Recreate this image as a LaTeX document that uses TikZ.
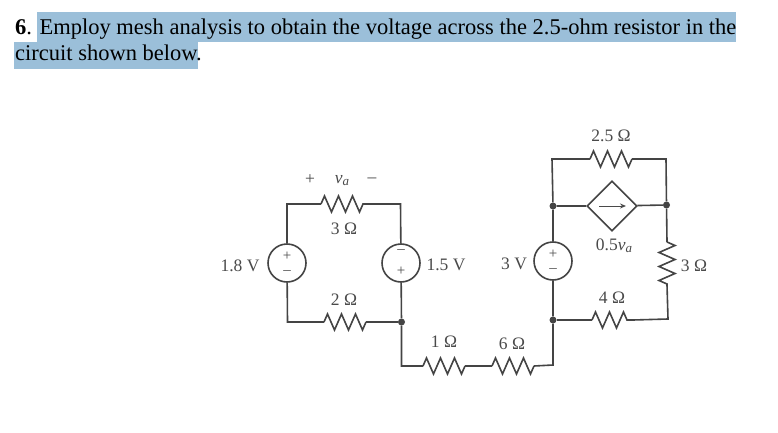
\documentclass[tikz,border=0pt]{standalone}
\usepackage{fontspec}
\setmainfont{Liberation Serif}
\usetikzlibrary{decorations.pathmorphing,shapes.geometric,arrows.meta}
\definecolor{hl}{HTML}{9BBFD9}
\definecolor{wire}{HTML}{444444}
\definecolor{lab}{HTML}{4A4A4A}
\tikzset{
  x=1pt,y=-1pt,
  wirepath/.style={draw=wire,line width=1.6pt,line join=miter},
  res/.style={wirepath,decorate,decoration={zigzag,segment length=14pt,amplitude=8pt,pre length=0pt,post length=0pt}},
  source/.style={circle,draw=wire,line width=1.6pt,minimum size=38pt,inner sep=0pt,fill=white},
  sign/.style={text=lab,inner sep=0pt,font=\fontsize{15}{15}\selectfont},
  dot/.style={circle,fill=wire,minimum size=7pt,inner sep=0pt},
  lbl/.style={text=lab,inner sep=0pt,font=\fontsize{17.5}{18}\selectfont},
  band/.style={fill=hl,draw=none},
  title/.style={anchor=base west,inner sep=0pt,text=black,font=\fontsize{22.5}{24}\selectfont},
  dep/.style={diamond,aspect=1,draw=wire,line width=1.6pt,minimum size=50pt,inner sep=0pt,fill=white}
}
\begin{document}
\begin{tikzpicture}
\useasboundingbox (0,0) rectangle (778,433);
\fill[white] (0,0) rectangle (778,433);
\fill[band] (37,12) rectangle (736,42);
\fill[band] (14,42) rectangle (198,69);
\node[title] (t1) at (15,35) {\textbf{6}. Employ mesh analysis to obtain the voltage across the 2.5-ohm resistor in the};
\node[title] (t2) at (15,61) {circuit shown below.};

% sources
\node[source] (s1) at (287,263) {};
\node[source] (s2) at (401,263) {};
\node[source] (s3) at (553,261) {};
\node[dep] (d) at (612,206) {};
% junctions
\node[dot] (j1) at (401.5,322) {};
\node[dot] (j2) at (553,320) {};
\node[dot] (j3) at (553,206) {};
\node[dot] (j4) at (666.5,205) {};
% corners and resistor ends
\coordinate (tl) at (287,204);
\coordinate (tr) at (400.5,204);
\coordinate (bl) at (287.5,322);
\coordinate (r3a) at (321,204); \coordinate (r3b) at (364,204);
\coordinate (r2a) at (324,322); \coordinate (r2b) at (366,322);
\coordinate (c1) at (401.5,366);
\coordinate (r1a) at (423,366); \coordinate (r1b) at (465,366);
\coordinate (r6a) at (492,366); \coordinate (r6b) at (534,366);
\coordinate (c2) at (553,365);
\coordinate (t25l) at (552,159); \coordinate (t25r) at (666,159);
\coordinate (r25a) at (590,159); \coordinate (r25b) at (632,159);
\coordinate (r3va) at (667,242); \coordinate (r3vb) at (667,285);
\coordinate (c3) at (668,319);
\coordinate (r4a) at (592,320); \coordinate (r4b) at (633,320);
% wires
\draw[wirepath] (s1) -- (tl) -- (r3a);
\draw[res] (r3a) -- (r3b);
\draw[wirepath] (r3b) -- (tr) -- (s2);
\draw[wirepath] (s1) -- (bl) -- (r2a);
\draw[res] (r2a) -- (r2b);
\draw[wirepath] (r2b) -- (j1);
\draw[wirepath] (s2) -- (j1) -- (c1) -- (r1a);
\draw[res] (r1a) -- (r1b);
\draw[wirepath] (r1b) -- (r6a);
\draw[res] (r6a) -- (r6b);
\draw[wirepath] (r6b) -- (c2) -- (j2) -- (s3) -- (j3) -- (t25l) -- (r25a);
\draw[res] (r25a) -- (r25b);
\draw[wirepath] (r25b) -- (t25r) -- (j4);
\draw[wirepath] (j3) -- (d) -- (j4);
\draw[wirepath] (j4) -- (r3va);
\draw[res] (r3va) -- (r3vb);
\draw[wirepath] (r3vb) -- (c3) -- (r4b);
\draw[res] (r4a) -- (r4b);
\draw[wirepath] (j2) -- (r4a);
\coordinate (aa) at (599,206); \coordinate (ab) at (626,206);
\draw[draw=lab,line width=1pt,-{Stealth[length=6pt,width=5pt]}] (aa) -- (ab);
% signs
\node[sign] (p1) at (287,256) {+};
\node[sign] (m1) at (287,273) {\textendash};
\node[sign] (m2) at (401,252) {\textendash};
\node[sign] (p2) at (401,271) {+};
\node[sign] (p3) at (553,254) {+};
\node[sign] (m3) at (553,271) {\textendash};
% labels
\node[lbl] (l18) at (240,266) {1.8 V};
\node[lbl] (l15) at (446,265) {1.5 V};
\node[lbl] (l3v) at (514,264) {3 V};
\node[lbl] (l3o) at (344,229) {3 Ω};
\node[lbl] (l2o) at (344,300) {2 Ω};
\node[lbl] (l1o) at (444,342) {1 Ω};
\node[lbl] (l6o) at (512,344) {6 Ω};
\node[lbl] (l25) at (611,136) {2.5 Ω};
\node[lbl] (l05) at (614,246) {0.5\textit{v}\raisebox{-2pt}{\fontsize{13}{13}\selectfont\textit{a}}};
\node[lbl] (l4o) at (612,298) {4 Ω};
\node[lbl] (l3r) at (694,266) {3 Ω};
\node[lbl] (pv) at (310,180) {+};
\node[lbl] (va) at (342,181) {\textit{v}\raisebox{-2pt}{\fontsize{13}{13}\selectfont\textit{a}}};
\node[lbl] (mv) at (372,180) {\textendash};
\end{tikzpicture}
\end{document}
